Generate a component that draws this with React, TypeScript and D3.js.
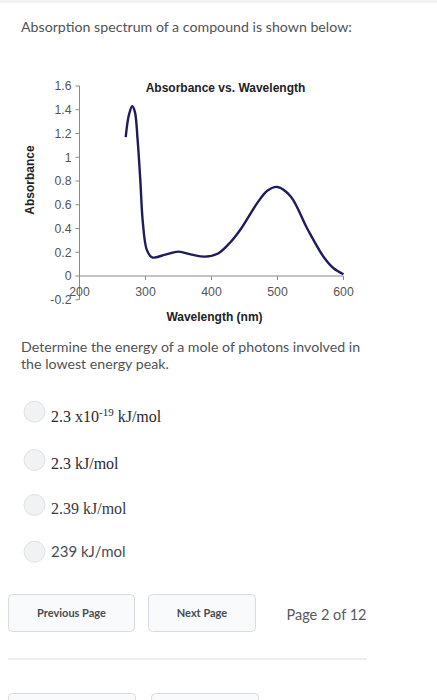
import React from 'react';
import * as d3 from 'd3';

// spectrum
const wavelength = [270, 275, 280, 284, 288, 292, 296, 302, 310, 330, 350, 370, 390, 410, 428, 445, 470, 485, 500, 520, 545, 570, 585, 600];
const absorbance = [1.17, 1.36, 1.43, 1.38, 1.15, 0.82, 0.45, 0.22, 0.157, 0.18, 0.205, 0.18, 0.163, 0.19, 0.28, 0.4, 0.62, 0.72, 0.75, 0.67, 0.4, 0.16, 0.065, 0.015];

const xTicks = [200, 300, 400, 500, 600];
const yTicks = [-0.2, 0, 0.2, 0.4, 0.6, 0.8, 1, 1.2, 1.4, 1.6];

const options = ['2.3 kJ/mol', '2.39 kJ/mol', '239 kJ/mol'];

const chartFont = '"Liberation Sans", Arial, sans-serif';
const pageFont = 'Lato, "Open Sans", sans-serif';
const serifFont = '"Liberation Serif", "Times New Roman", serif';

export default function App() {
  const x = d3.scaleLinear().domain([200, 600]).range([79.5, 343.5]);
  const y = d3.scaleLinear().domain([-0.2, 1.6]).range([299.75, 86]);

  const points = wavelength.map((w, i) => [w, absorbance[i]] as [number, number]);
  const line = d3
    .line<[number, number]>()
    .x((d) => x(d[0]))
    .y((d) => y(d[1]))
    .curve(d3.curveCatmullRom.alpha(0.5));

  const optionY = [460, 505, 551.7];

  return (
    <svg
      width={437}
      height={700}
      style={{ position: 'absolute', left: 0, top: 0, background: '#fff' }}
    >
      <rect x={0} y={0} width={437} height={3} fill="#f1f2f3" />
      <text x={21} y={32} fontFamily={pageFont} fontSize={14.2} fill="#505356">
        Absorption spectrum of a compound is shown below:
      </text>

      {/* chart */}
      <text x={225.5} y={92} textAnchor="middle" fontFamily={chartFont} fontSize={12} fontWeight="bold" fill="#222">
        Absorbance vs. Wavelength
      </text>

      <line x1={x(200)} x2={x(200)} y1={y(1.6)} y2={y(-0.2)} stroke="#8a8a8a" />
      <line x1={x(200)} x2={x(600)} y1={y(0)} y2={y(0)} stroke="#8a8a8a" />

      {yTicks.map((t) => (
        <g key={t}>
          <line x1={x(200) - 4} x2={x(200)} y1={y(t)} y2={y(t)} stroke="#8a8a8a" />
          <text x={x(200) - 8} y={y(t)} dy="0.35em" textAnchor="end" fontFamily={chartFont} fontSize={12.3} fill="#555">
            {t}
          </text>
        </g>
      ))}

      {xTicks.map((t) => (
        <g key={t}>
          <line x1={x(t)} x2={x(t)} y1={y(0)} y2={y(0) + 4} stroke="#8a8a8a" />
          <text x={x(t)} y={y(0) + 19.5} textAnchor="middle" fontFamily={chartFont} fontSize={12.3} fill="#555">
            {t}
          </text>
        </g>
      ))}

      <text
        transform={`translate(34,180) rotate(-90)`}
        textAnchor="middle"
        fontFamily={chartFont}
        fontSize={12}
        fontWeight="bold"
        fill="#222"
      >
        Absorbance
      </text>
      <text x={214.5} y={321} textAnchor="middle" fontFamily={chartFont} fontSize={12} fontWeight="bold" fill="#222">
        Wavelength (nm)
      </text>

      <path d={line(points) ?? ''} fill="none" stroke="#1c1c5e" strokeWidth={2.4} strokeLinejoin="round" />

      {/* question */}
      <text fontFamily={pageFont} fontSize={14.2} fill="#505356">
        <tspan x={21} y={352}>Determine the energy of a mole of photons involved in</tspan>
        <tspan x={21} y={368.5}>the lowest energy peak.</tspan>
      </text>

      {[411.7, ...optionY].map((cy) => (
        <circle key={cy} cx={34.5} cy={cy} r={10.5} fill="#f1f2f4" stroke="#dfe1e4" />
      ))}

      <text x={51} y={421.5} fontFamily={serifFont} fontSize={16} fill="#2a2a2a">
        2.3 x10
        <tspan dy={-6} fontSize={11}>-19</tspan>
        <tspan dy={6}> kJ/mol</tspan>
      </text>
      <text x={51} y={optionY[0] + 9} fontFamily={serifFont} fontSize={16} fill="#2a2a2a">
        {options[0]}
      </text>
      <text x={51} y={optionY[1] + 9} fontFamily={serifFont} fontSize={16} fill="#3a3a3a">
        {options[1]}
      </text>
      <text x={51} y={optionY[2] + 5.5} fontFamily={pageFont} fontSize={15} fill="#4a4d50">
        {options[2]}
      </text>

      {/* navigation */}
      <rect x={8.5} y={594.5} width={126} height={37} rx={4} fill="#f9fafb" stroke="#d8dce2" />
      <rect x={148.5} y={594.5} width={107} height={37} rx={4} fill="#f9fafb" stroke="#d8dce2" />
      <text x={71.5} y={617} textAnchor="middle" fontFamily={pageFont} fontSize={11} fontWeight="bold" fill="#494c4e">
        Previous Page
      </text>
      <text x={202} y={617} textAnchor="middle" fontFamily={pageFont} fontSize={11} fontWeight="bold" fill="#494c4e">
        Next Page
      </text>
      <text x={286.5} y={620} fontFamily={pageFont} fontSize={14.5} fill="#565a5c">
        Page 2 of 12
      </text>
      <line x1={8} x2={367} y1={659} y2={659} stroke="#d8dce2" />
      <rect x={8.5} y={693.5} width={127} height={20} rx={4} fill="#f9fafb" stroke="#d8dce2" />
      <rect x={151.5} y={693.5} width={107} height={20} rx={4} fill="#f9fafb" stroke="#d8dce2" />
    </svg>
  );
}
